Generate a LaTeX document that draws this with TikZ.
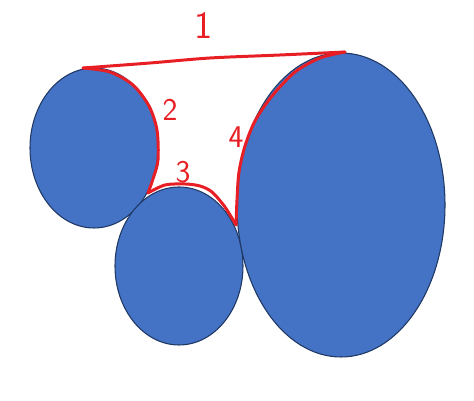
\documentclass[tikz,border=0pt]{standalone}
\usepackage{tikz}
\usetikzlibrary{shapes.geometric}

\definecolor{blobfill}{RGB}{68,114,196}
\definecolor{blobline}{RGB}{31,56,100}
\definecolor{penred}{RGB}{232,30,37}

\begin{document}
\begin{tikzpicture}[x=0.02cm, y=-0.02cm]
		\useasboundingbox (0,0) rectangle (474,401);
		\tikzset{blob/.style={fill=blobfill, draw=blobline, line width=0.6pt}}
		\tikzset{pen/.style={draw=penred, line width=1.7pt, line join=round, line cap=round}}
		\tikzset{num/.style={text=penred, font=\sffamily\fontsize{18}{19}\selectfont, inner sep=0pt}}
		
		\draw[blob] (94,148) ellipse (64 and 80);
		\draw[blob] (179,266) ellipse (64 and 79);
		\draw[blob] (341,205) ellipse (104 and 152);
		
		\draw[pen] plot[smooth, tension=0.5] coordinates {
			(83,68) (150,63) (210,58) (280,55) (345,52)};
		\draw[pen] plot[smooth, tension=0.5] coordinates {
			(345,52) (320,58) (295,72) (272,96) (255,121) (245,146) (239,172) (237,200) (236,225)};
		\draw[pen] plot[smooth, tension=0.5] coordinates {
			(236,225) (225,207) (212,192) (200,186) (185,184) (165,185) (148,193)};
		\draw[pen] plot[smooth, tension=0.5] coordinates {
			(148,193) (153,179) (158,160) (157,130) (149,106) (133,85) (110,72) (83,68)};
		
		\node[num, font=\sffamily\fontsize{22}{23}\selectfont] (N1) at (204,26) {1};
		\node[num] (N2) at (170,110) {2};
		\node[num] (N3) at (183,172) {3};
		\node[num] (N4) at (236,137) {4};
		
	\end{tikzpicture}
\end{document}
